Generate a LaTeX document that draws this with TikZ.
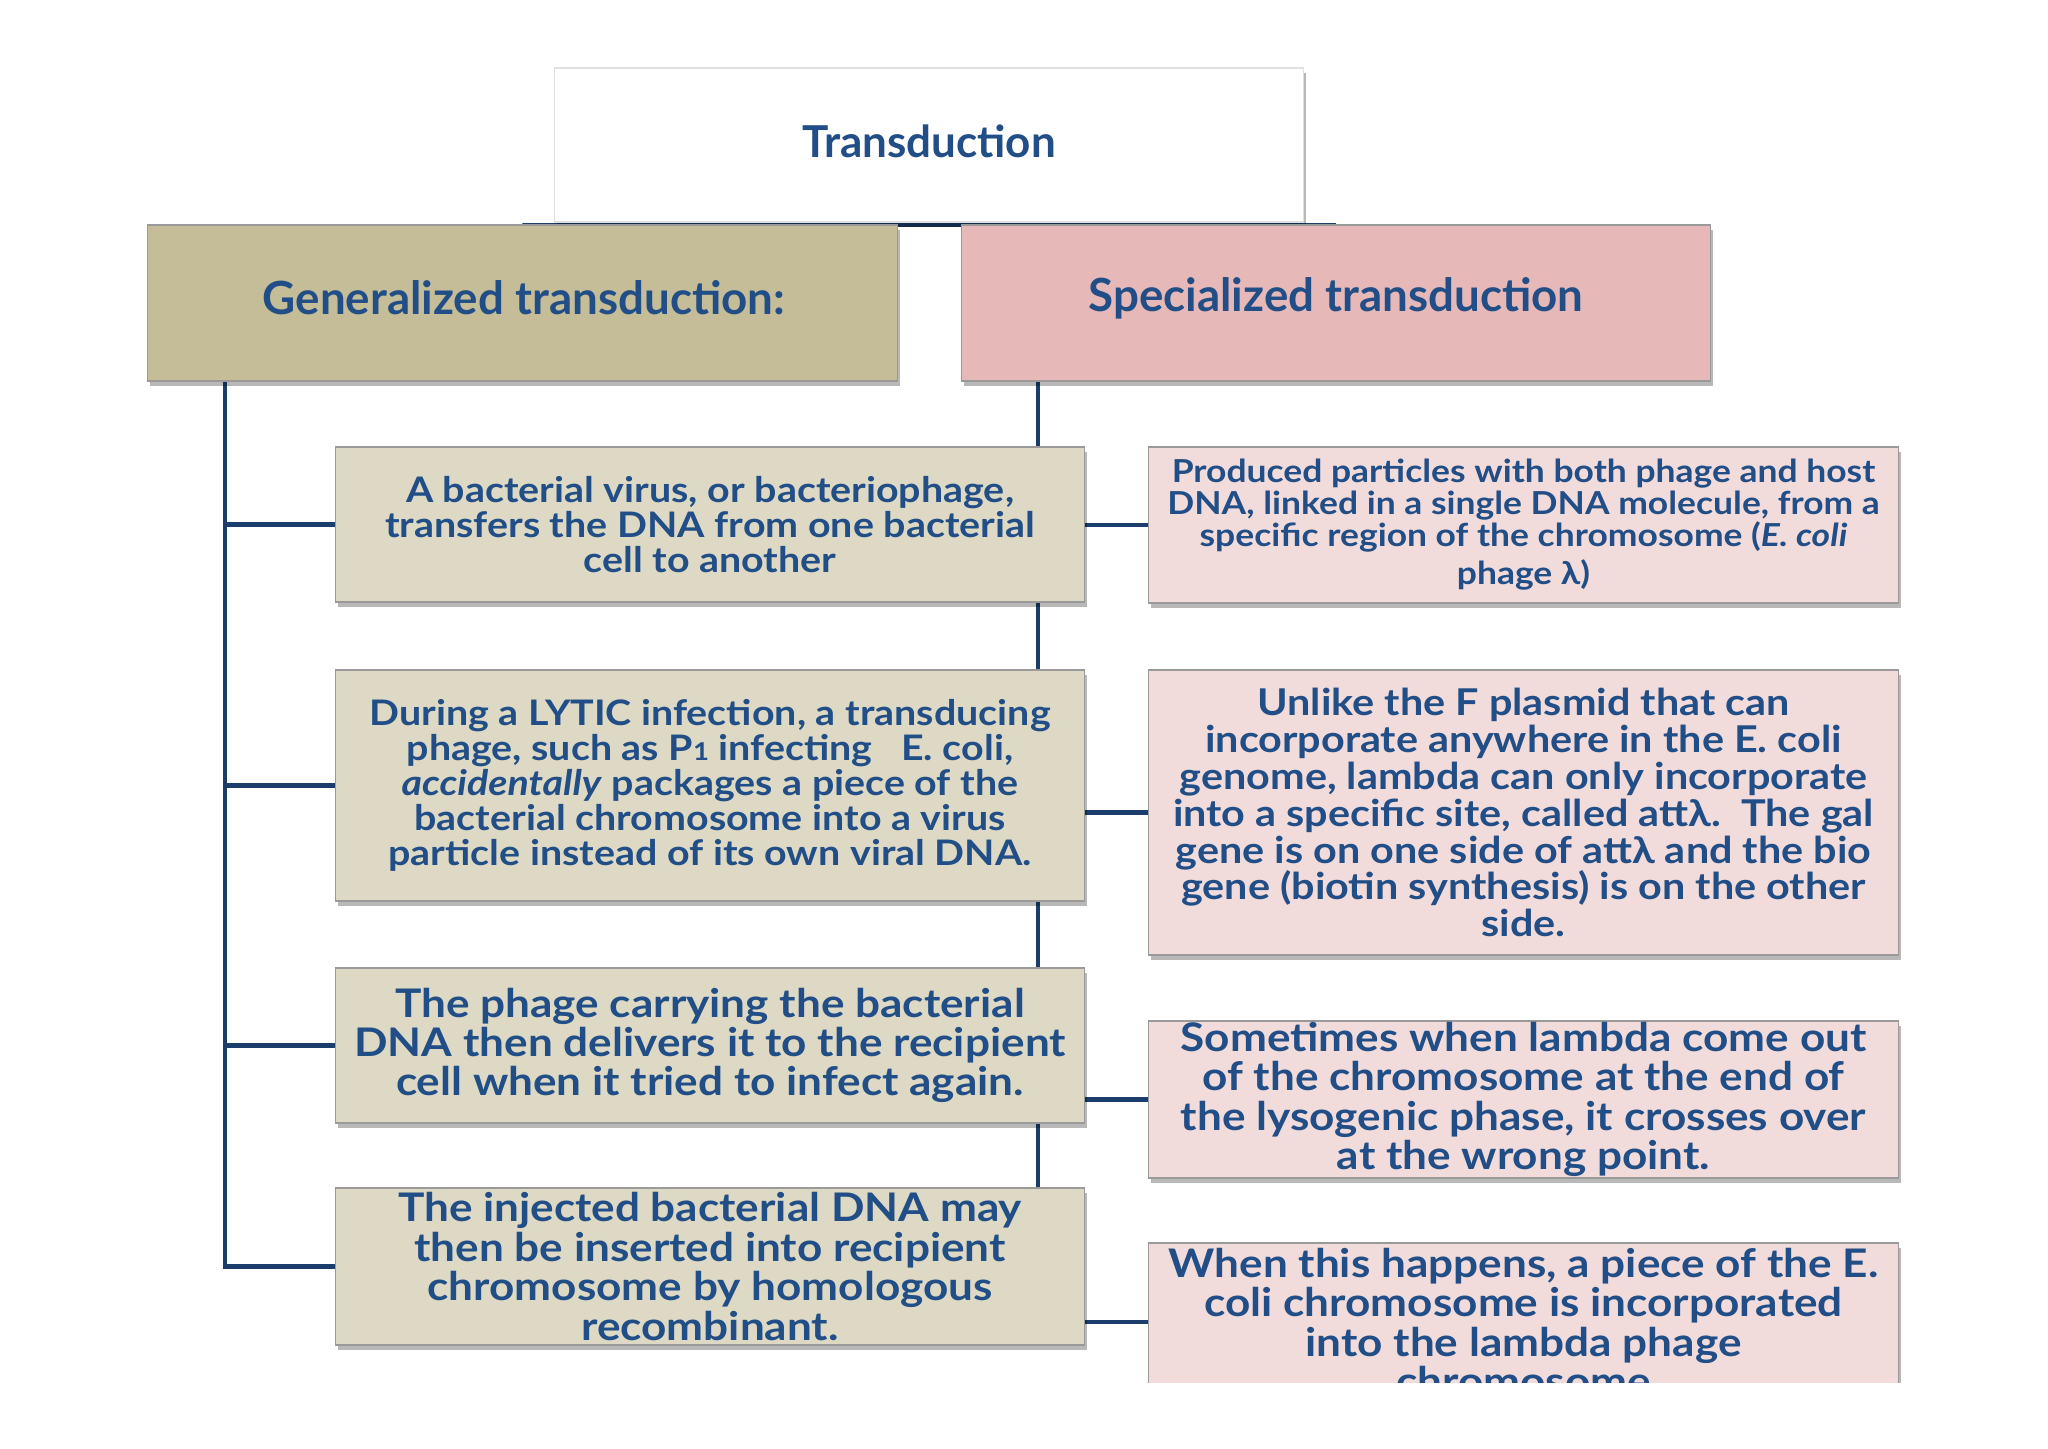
\documentclass[tikz,border=0pt]{standalone}
\usepackage{fontspec}
\setmainfont{Lato}
\newfontfamily\tdbody{Lato}[FakeStretch=1.12]
\usetikzlibrary{shadows,backgrounds}
\definecolor{TDText}{HTML}{214E86}
\definecolor{TDLine}{HTML}{1B3D6B}
\definecolor{TDTan}{HTML}{C4BD97}
\definecolor{TDTanLight}{HTML}{DDD9C4}
\definecolor{TDRose}{HTML}{E6B9B8}
\definecolor{TDRoseLight}{HTML}{F2DCDB}
\definecolor{TDBorder}{HTML}{9A9A9A}
\newcommand{\tdsize}[1]{\bfseries\fontsize{#1}{#1}\selectfont}

\begin{document}
\begin{tikzpicture}[x=0.01cm,y=-0.01cm,
  box/.style={draw=TDBorder,line width=.4pt,align=center,text=TDText,inner sep=0pt,
    drop shadow={shadow xshift=.7pt,shadow yshift=-1.4pt,opacity=.28,fill=black}},
  titlebox/.style={box,fill=white,draw=black!12,minimum width=7.48cm,minimum height=1.54cm},
  headbox/.style={box,minimum width=7.49cm,minimum height=1.56cm},
  genitem/.style={box,fill=TDTanLight,minimum width=7.48cm},
  specitem/.style={box,fill=TDRoseLight,minimum width=7.49cm},
  itemtext/.style={align=center,text=TDText,inner sep=0pt},
  link/.style={draw=TDLine,line width=1.2pt}]
\path[use as bounding box] (0,0) rectangle (2048,1448);

% top level
\node[titlebox] (title) at (929,145) {};
\node[itemtext,font=\tdsize{12.5}] (title-t) at (929,141) {Transduction};
\node[headbox,fill=TDTan] (gen) at (522.5,303) {};
\node[itemtext,font=\tdsize{13}] (gen-t) at (524,298) {Generalized transduction:};
\node[headbox,fill=TDRose] (spec) at (1336,303) {};
\node[itemtext,font=\tdsize{13}] (spec-t) at (1336,298) {Specialized transduction};

% generalized column
\node[genitem,minimum height=1.55cm] (ga) at (710,524.5) {};
\node[itemtext,font=\tdbody\tdsize{10}] (ga-t) at (ga)
  {A bacterial virus, or bacteriophage,\\ transfers the DNA from one bacterial\\ cell to another};
\node[genitem,minimum height=2.31cm] (gb) at (710,785.5) {};
\node[itemtext,font=\tdbody\tdsize{10}] (gb-t) at (gb)
  {During a LYTIC infection, a transducing\\ phage, such as P{\fontsize{7}{7}\selectfont 1} infecting\ \ \ E. coli,\\
   \textit{accidentally} packages a piece of the\\ bacterial chromosome into a virus\\ particle instead of its own viral DNA.};
\node[genitem,minimum height=1.55cm] (gc) at (710,1045.5) {};
\node[itemtext,font=\tdbody\tdsize{11.2}] (gc-t) at (gc)
  {The phage carrying the bacterial\\ DNA then delivers it to the recipient\\ cell when it tried to infect again.};
\node[genitem,minimum height=1.57cm] (gd) at (710,1266.5) {};
\node[itemtext,font=\tdbody\tdsize{11.2}] (gd-t) at (gd)
  {The injected bacterial DNA may\\ then be inserted into recipient\\ chromosome by homologous\\ recombinant.};

% specialized column
\node[specitem,minimum height=1.56cm] (sa) at (1523.5,525) {};
\node[itemtext,font=\tdbody\tdsize{9}] (sa-t) at (sa)
  {Produced particles with both phage and host\\ DNA, linked in a single DNA molecule, from a\\
   specific region of the chromosome (\textit{E. coli}\\[2pt] phage λ)};
\node[specitem,minimum height=2.85cm] (sb) at (1523.5,812.5) {};
\node[itemtext,font=\tdbody\tdsize{10.5}] (sb-t) at (sb)
  {Unlike the F plasmid that can\\ incorporate anywhere in the E. coli\\ genome, lambda can only incorporate\\
   into a specific site, called attλ.\ \ The gal\\ gene is on one side of attλ and the bio\\
   gene (biotin synthesis) is on the other\\ side.};
\node[specitem,minimum height=1.57cm] (sc) at (1523.5,1099.5) {};
\node[itemtext,font=\tdbody\tdsize{11.2}] (sc-t) at (sc)
  {Sometimes when lambda come out\\ of the chromosome at the end of\\ the lysogenic phase, it crosses over\\ at the wrong point.};
\begin{scope}
\clip (0,0) rectangle (2048,1382);
\node[specitem,minimum height=1.58cm] (sd) at (1523.5,1322) {};
\node[itemtext,font=\tdbody\tdsize{11.2}] (sd-t) at (sd)
  {When this happens, a piece of the E.\\ coli chromosome is incorporated\\ into the lambda phage\\ chromosome};
\end{scope}

% connectors
\begin{scope}[on background layer]
\draw[link] (title.south) -- ++(0,2) -| (gen.north);
\draw[link] (title.south) -- ++(0,2) -| (spec.north);
\coordinate (gtrunk) at (225,381);
\coordinate (strunk) at (1038,381);
\draw[link] (gtrunk) |- (gd.west);
\foreach \n in {ga,gb,gc}
  \draw[link] (gtrunk |- \n.west) -- (\n.west);
\draw[link] (strunk) |- (sd.west);
\foreach \n in {sa,sb,sc}
  \draw[link] (strunk |- \n.west) -- (\n.west);
\end{scope}
\end{tikzpicture}
\end{document}
